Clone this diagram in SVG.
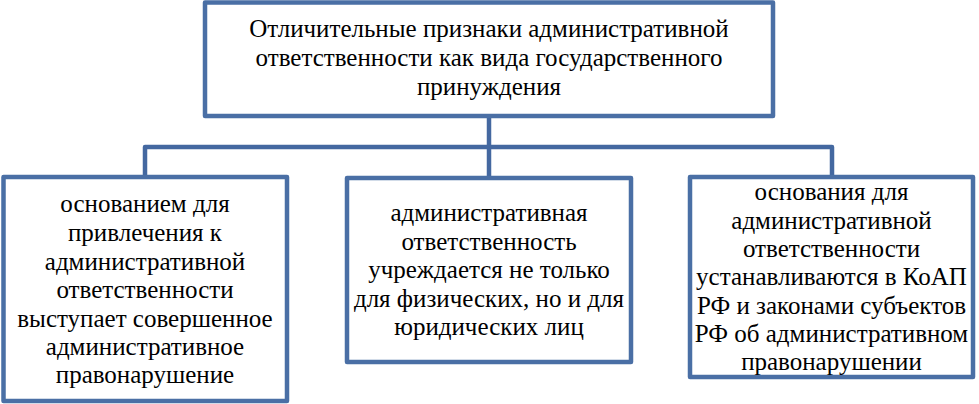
<svg xmlns="http://www.w3.org/2000/svg" width="979" height="404" viewBox="0 0 979 404">
<style>
.box{fill:#ffffff;stroke:#4A6FA5;stroke-width:4.5;stroke-linejoin:round}
.conn{fill:none;stroke:#4468A0;stroke-width:4.5;stroke-linejoin:round}
.t{font-family:"Liberation Serif",serif;font-size:25px;fill:#000;text-anchor:middle}
</style>
<rect width="979" height="404" fill="#ffffff"/>
<g id="connectors">
<path class="conn" d="M489 116 V147"/>
<path class="conn" d="M145 177 V147 H832 V177"/>
<path class="conn" d="M489 147 V178"/>
</g>
<g id="top">
<rect class="box" x="205" y="2.5" width="568" height="113.5"/>
<text class="t" x="489" y="37">Отличительные признаки административной</text>
<text class="t" x="489" y="66">ответственности как вида государственного</text>
<text class="t" x="489" y="95">принуждения</text>
</g>
<g id="left">
<rect class="box" x="3.5" y="177" width="283.5" height="224"/>
<text class="t" x="145" y="212">основанием для</text>
<text class="t" x="145" y="241">привлечения к</text>
<text class="t" x="145" y="269.5">административной</text>
<text class="t" x="145" y="298">ответственности</text>
<text class="t" x="145" y="326.5">выступает совершенное</text>
<text class="t" x="145" y="355">административное</text>
<text class="t" x="145" y="383">правонарушение</text>
</g>
<g id="middle">
<rect class="box" x="347" y="178" width="284" height="184"/>
<text class="t" x="489" y="221">административная</text>
<text class="t" x="489" y="249.5">ответственность</text>
<text class="t" x="489" y="278">учреждается не только</text>
<text class="t" x="489" y="306.5">для физических, но и для</text>
<text class="t" x="489" y="335">юридических лиц</text>
</g>
<g id="right">
<rect class="box" x="690" y="177" width="283" height="200"/>
<text class="t" x="831.5" y="200">основания для</text>
<text class="t" x="831.5" y="228.5">административной</text>
<text class="t" x="831.5" y="257">ответственности</text>
<text class="t" x="831.5" y="285">устанавливаются в КоАП</text>
<text class="t" x="831.5" y="313.5">РФ и законами субъектов</text>
<text class="t" x="831.5" y="342">РФ об административном</text>
<text class="t" x="831.5" y="370">правонарушении</text>
</g>
</svg>
